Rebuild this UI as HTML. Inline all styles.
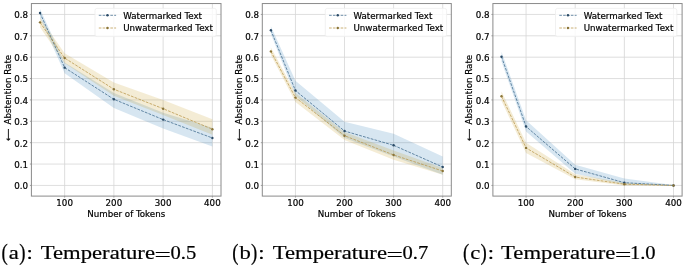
<!DOCTYPE html>
<html><head><meta charset="utf-8"><style>
html,body{margin:0;padding:0;background:#fff;width:685px;height:267px;overflow:hidden}
svg{display:block;filter:blur(0.4px)}
text{font-family:"DejaVu Sans",sans-serif;font-size:8.7px;fill:#000000;stroke:#000000;stroke-width:0.2px}
text.cap{font-family:"Liberation Serif",serif;font-size:19.8px;fill:#000;stroke:#000;stroke-width:0.2px}
</style></head><body>
<svg width="685" height="267" viewBox="0 0 685 267">
<rect width="685" height="267" fill="#fff"/>
<line x1="31.40" x2="221.00" y1="185.43" y2="185.43" stroke="#d6d6d6" stroke-width="0.8"/>
<line x1="31.40" x2="221.00" y1="164.06" y2="164.06" stroke="#d6d6d6" stroke-width="0.8"/>
<line x1="31.40" x2="221.00" y1="142.68" y2="142.68" stroke="#d6d6d6" stroke-width="0.8"/>
<line x1="31.40" x2="221.00" y1="121.31" y2="121.31" stroke="#d6d6d6" stroke-width="0.8"/>
<line x1="31.40" x2="221.00" y1="99.93" y2="99.93" stroke="#d6d6d6" stroke-width="0.8"/>
<line x1="31.40" x2="221.00" y1="78.56" y2="78.56" stroke="#d6d6d6" stroke-width="0.8"/>
<line x1="31.40" x2="221.00" y1="57.18" y2="57.18" stroke="#d6d6d6" stroke-width="0.8"/>
<line x1="31.40" x2="221.00" y1="35.81" y2="35.81" stroke="#d6d6d6" stroke-width="0.8"/>
<line x1="31.40" x2="221.00" y1="14.43" y2="14.43" stroke="#d6d6d6" stroke-width="0.8"/>
<line x1="64.64" x2="64.64" y1="3.55" y2="196.10" stroke="#d6d6d6" stroke-width="0.8"/>
<line x1="113.89" x2="113.89" y1="3.55" y2="196.10" stroke="#d6d6d6" stroke-width="0.8"/>
<line x1="163.14" x2="163.14" y1="3.55" y2="196.10" stroke="#d6d6d6" stroke-width="0.8"/>
<line x1="212.38" x2="212.38" y1="3.55" y2="196.10" stroke="#d6d6d6" stroke-width="0.8"/>
<polygon points="40.02,9.09 64.64,62.52 113.89,93.09 163.14,112.75 212.38,127.72 212.38,146.53 163.14,128.57 113.89,108.05 64.64,73.21 40.02,17.64" fill="#1f77b4" fill-opacity="0.18"/>
<polygon points="40.02,17.64 64.64,53.33 113.89,82.40 163.14,99.93 212.38,119.17 212.38,134.77 163.14,114.89 113.89,95.66 64.64,63.17 40.02,27.25" fill="#c39416" fill-opacity="0.18"/>
<polyline points="40.02,12.93 64.64,67.65 113.89,99.29 163.14,119.60 212.38,137.98" fill="none" stroke="#3a6688" stroke-width="0.75" stroke-dasharray="2.8,1.2"/><circle cx="40.02" cy="12.93" r="1.2" fill="#2a4a66"/><circle cx="64.64" cy="67.65" r="1.2" fill="#2a4a66"/><circle cx="113.89" cy="99.29" r="1.2" fill="#2a4a66"/><circle cx="163.14" cy="119.60" r="1.2" fill="#2a4a66"/><circle cx="212.38" cy="137.98" r="1.2" fill="#2a4a66"/>
<polyline points="40.02,22.34 64.64,58.04 113.89,89.24 163.14,108.69 212.38,129.21" fill="none" stroke="#b8964a" stroke-width="0.75" stroke-dasharray="2.8,1.2"/><circle cx="40.02" cy="22.34" r="1.2" fill="#8a7438"/><circle cx="64.64" cy="58.04" r="1.2" fill="#8a7438"/><circle cx="113.89" cy="89.24" r="1.2" fill="#8a7438"/><circle cx="163.14" cy="108.69" r="1.2" fill="#8a7438"/><circle cx="212.38" cy="129.21" r="1.2" fill="#8a7438"/>
<rect x="31.40" y="3.55" width="189.60" height="192.55" fill="none" stroke="#8a8a8a" stroke-width="1"/>
<line x1="29.90" x2="31.40" y1="185.43" y2="185.43" stroke="#8a8a8a" stroke-width="0.8"/>
<text x="28.10" y="189.33" text-anchor="end">0.0</text>
<line x1="29.90" x2="31.40" y1="164.06" y2="164.06" stroke="#8a8a8a" stroke-width="0.8"/>
<text x="28.10" y="167.96" text-anchor="end">0.1</text>
<line x1="29.90" x2="31.40" y1="142.68" y2="142.68" stroke="#8a8a8a" stroke-width="0.8"/>
<text x="28.10" y="146.58" text-anchor="end">0.2</text>
<line x1="29.90" x2="31.40" y1="121.31" y2="121.31" stroke="#8a8a8a" stroke-width="0.8"/>
<text x="28.10" y="125.21" text-anchor="end">0.3</text>
<line x1="29.90" x2="31.40" y1="99.93" y2="99.93" stroke="#8a8a8a" stroke-width="0.8"/>
<text x="28.10" y="103.83" text-anchor="end">0.4</text>
<line x1="29.90" x2="31.40" y1="78.56" y2="78.56" stroke="#8a8a8a" stroke-width="0.8"/>
<text x="28.10" y="82.46" text-anchor="end">0.5</text>
<line x1="29.90" x2="31.40" y1="57.18" y2="57.18" stroke="#8a8a8a" stroke-width="0.8"/>
<text x="28.10" y="61.08" text-anchor="end">0.6</text>
<line x1="29.90" x2="31.40" y1="35.81" y2="35.81" stroke="#8a8a8a" stroke-width="0.8"/>
<text x="28.10" y="39.71" text-anchor="end">0.7</text>
<line x1="29.90" x2="31.40" y1="14.43" y2="14.43" stroke="#8a8a8a" stroke-width="0.8"/>
<text x="28.10" y="18.33" text-anchor="end">0.8</text>
<line x1="64.64" x2="64.64" y1="196.10" y2="197.60" stroke="#8a8a8a" stroke-width="0.8"/>
<text x="64.64" y="205.90" text-anchor="middle">100</text>
<line x1="113.89" x2="113.89" y1="196.10" y2="197.60" stroke="#8a8a8a" stroke-width="0.8"/>
<text x="113.89" y="205.90" text-anchor="middle">200</text>
<line x1="163.14" x2="163.14" y1="196.10" y2="197.60" stroke="#8a8a8a" stroke-width="0.8"/>
<text x="163.14" y="205.90" text-anchor="middle">300</text>
<line x1="212.38" x2="212.38" y1="196.10" y2="197.60" stroke="#8a8a8a" stroke-width="0.8"/>
<text x="212.38" y="205.90" text-anchor="middle">400</text>
<text x="126.20" y="217.2" text-anchor="middle">Number of Tokens</text>
<text transform="translate(10.90,124.4) rotate(-90)" x="0" y="0">Abstention Rate</text>
<text transform="translate(10.90,140.9) rotate(-90)" x="0" y="0">⟵</text>
<rect x="95.00" y="8.40" width="121.30" height="28.20" rx="2" fill="#ffffff" fill-opacity="0.8" stroke="#eeeeee" stroke-width="0.8"/>
<line x1="98.80" x2="116.10" y1="15.30" y2="15.30" stroke="#3a6688" stroke-width="0.75" stroke-dasharray="2.6,1.25"/>
<circle cx="107.45" cy="15.30" r="1.2" fill="#2a4a66"/>
<text x="123.20" y="18.60">Watermarked Text</text>
<line x1="98.80" x2="116.10" y1="28.00" y2="28.00" stroke="#b8964a" stroke-width="0.75" stroke-dasharray="2.6,1.25"/>
<circle cx="107.45" cy="28.00" r="1.2" fill="#8a7438"/>
<text x="123.20" y="31.30">Unwatermarked Text</text>
<line x1="262.30" x2="451.30" y1="185.43" y2="185.43" stroke="#d6d6d6" stroke-width="0.8"/>
<line x1="262.30" x2="451.30" y1="164.06" y2="164.06" stroke="#d6d6d6" stroke-width="0.8"/>
<line x1="262.30" x2="451.30" y1="142.68" y2="142.68" stroke="#d6d6d6" stroke-width="0.8"/>
<line x1="262.30" x2="451.30" y1="121.31" y2="121.31" stroke="#d6d6d6" stroke-width="0.8"/>
<line x1="262.30" x2="451.30" y1="99.93" y2="99.93" stroke="#d6d6d6" stroke-width="0.8"/>
<line x1="262.30" x2="451.30" y1="78.56" y2="78.56" stroke="#d6d6d6" stroke-width="0.8"/>
<line x1="262.30" x2="451.30" y1="57.18" y2="57.18" stroke="#d6d6d6" stroke-width="0.8"/>
<line x1="262.30" x2="451.30" y1="35.81" y2="35.81" stroke="#d6d6d6" stroke-width="0.8"/>
<line x1="262.30" x2="451.30" y1="14.43" y2="14.43" stroke="#d6d6d6" stroke-width="0.8"/>
<line x1="295.44" x2="295.44" y1="3.55" y2="196.10" stroke="#d6d6d6" stroke-width="0.8"/>
<line x1="344.53" x2="344.53" y1="3.55" y2="196.10" stroke="#d6d6d6" stroke-width="0.8"/>
<line x1="393.62" x2="393.62" y1="3.55" y2="196.10" stroke="#d6d6d6" stroke-width="0.8"/>
<line x1="442.71" x2="442.71" y1="3.55" y2="196.10" stroke="#d6d6d6" stroke-width="0.8"/>
<polygon points="270.89,26.19 295.44,80.69 344.53,121.73 393.62,133.70 442.71,156.57 442.71,174.74 393.62,156.57 344.53,137.98 295.44,95.66 270.89,34.10" fill="#1f77b4" fill-opacity="0.18"/>
<polygon points="270.89,47.56 295.44,93.09 344.53,131.99 393.62,150.59 442.71,167.90 442.71,174.74 393.62,159.78 344.53,139.90 295.44,102.07 270.89,55.04" fill="#c39416" fill-opacity="0.18"/>
<polyline points="270.89,30.25 295.44,90.53 344.53,131.03 393.62,145.31 442.71,167.05" fill="none" stroke="#3a6688" stroke-width="0.75" stroke-dasharray="2.8,1.2"/><circle cx="270.89" cy="30.25" r="1.2" fill="#2a4a66"/><circle cx="295.44" cy="90.53" r="1.2" fill="#2a4a66"/><circle cx="344.53" cy="131.03" r="1.2" fill="#2a4a66"/><circle cx="393.62" cy="145.31" r="1.2" fill="#2a4a66"/><circle cx="442.71" cy="167.05" r="1.2" fill="#2a4a66"/>
<polyline points="270.89,51.41 295.44,97.58 344.53,135.69 393.62,154.99 442.71,171.00" fill="none" stroke="#b8964a" stroke-width="0.75" stroke-dasharray="2.8,1.2"/><circle cx="270.89" cy="51.41" r="1.2" fill="#8a7438"/><circle cx="295.44" cy="97.58" r="1.2" fill="#8a7438"/><circle cx="344.53" cy="135.69" r="1.2" fill="#8a7438"/><circle cx="393.62" cy="154.99" r="1.2" fill="#8a7438"/><circle cx="442.71" cy="171.00" r="1.2" fill="#8a7438"/>
<rect x="262.30" y="3.55" width="189.00" height="192.55" fill="none" stroke="#8a8a8a" stroke-width="1"/>
<line x1="260.80" x2="262.30" y1="185.43" y2="185.43" stroke="#8a8a8a" stroke-width="0.8"/>
<text x="259.00" y="189.33" text-anchor="end">0.0</text>
<line x1="260.80" x2="262.30" y1="164.06" y2="164.06" stroke="#8a8a8a" stroke-width="0.8"/>
<text x="259.00" y="167.96" text-anchor="end">0.1</text>
<line x1="260.80" x2="262.30" y1="142.68" y2="142.68" stroke="#8a8a8a" stroke-width="0.8"/>
<text x="259.00" y="146.58" text-anchor="end">0.2</text>
<line x1="260.80" x2="262.30" y1="121.31" y2="121.31" stroke="#8a8a8a" stroke-width="0.8"/>
<text x="259.00" y="125.21" text-anchor="end">0.3</text>
<line x1="260.80" x2="262.30" y1="99.93" y2="99.93" stroke="#8a8a8a" stroke-width="0.8"/>
<text x="259.00" y="103.83" text-anchor="end">0.4</text>
<line x1="260.80" x2="262.30" y1="78.56" y2="78.56" stroke="#8a8a8a" stroke-width="0.8"/>
<text x="259.00" y="82.46" text-anchor="end">0.5</text>
<line x1="260.80" x2="262.30" y1="57.18" y2="57.18" stroke="#8a8a8a" stroke-width="0.8"/>
<text x="259.00" y="61.08" text-anchor="end">0.6</text>
<line x1="260.80" x2="262.30" y1="35.81" y2="35.81" stroke="#8a8a8a" stroke-width="0.8"/>
<text x="259.00" y="39.71" text-anchor="end">0.7</text>
<line x1="260.80" x2="262.30" y1="14.43" y2="14.43" stroke="#8a8a8a" stroke-width="0.8"/>
<text x="259.00" y="18.33" text-anchor="end">0.8</text>
<line x1="295.44" x2="295.44" y1="196.10" y2="197.60" stroke="#8a8a8a" stroke-width="0.8"/>
<text x="295.44" y="205.90" text-anchor="middle">100</text>
<line x1="344.53" x2="344.53" y1="196.10" y2="197.60" stroke="#8a8a8a" stroke-width="0.8"/>
<text x="344.53" y="205.90" text-anchor="middle">200</text>
<line x1="393.62" x2="393.62" y1="196.10" y2="197.60" stroke="#8a8a8a" stroke-width="0.8"/>
<text x="393.62" y="205.90" text-anchor="middle">300</text>
<line x1="442.71" x2="442.71" y1="196.10" y2="197.60" stroke="#8a8a8a" stroke-width="0.8"/>
<text x="442.71" y="205.90" text-anchor="middle">400</text>
<text x="356.80" y="217.2" text-anchor="middle">Number of Tokens</text>
<text transform="translate(241.80,124.4) rotate(-90)" x="0" y="0">Abstention Rate</text>
<text transform="translate(241.80,140.9) rotate(-90)" x="0" y="0">⟵</text>
<rect x="325.30" y="8.40" width="121.30" height="28.20" rx="2" fill="#ffffff" fill-opacity="0.8" stroke="#eeeeee" stroke-width="0.8"/>
<line x1="329.10" x2="346.40" y1="15.30" y2="15.30" stroke="#3a6688" stroke-width="0.75" stroke-dasharray="2.6,1.25"/>
<circle cx="337.75" cy="15.30" r="1.2" fill="#2a4a66"/>
<text x="353.50" y="18.60">Watermarked Text</text>
<line x1="329.10" x2="346.40" y1="28.00" y2="28.00" stroke="#b8964a" stroke-width="0.75" stroke-dasharray="2.6,1.25"/>
<circle cx="337.75" cy="28.00" r="1.2" fill="#8a7438"/>
<text x="353.50" y="31.30">Unwatermarked Text</text>
<line x1="492.90" x2="682.10" y1="185.43" y2="185.43" stroke="#d6d6d6" stroke-width="0.8"/>
<line x1="492.90" x2="682.10" y1="164.06" y2="164.06" stroke="#d6d6d6" stroke-width="0.8"/>
<line x1="492.90" x2="682.10" y1="142.68" y2="142.68" stroke="#d6d6d6" stroke-width="0.8"/>
<line x1="492.90" x2="682.10" y1="121.31" y2="121.31" stroke="#d6d6d6" stroke-width="0.8"/>
<line x1="492.90" x2="682.10" y1="99.93" y2="99.93" stroke="#d6d6d6" stroke-width="0.8"/>
<line x1="492.90" x2="682.10" y1="78.56" y2="78.56" stroke="#d6d6d6" stroke-width="0.8"/>
<line x1="492.90" x2="682.10" y1="57.18" y2="57.18" stroke="#d6d6d6" stroke-width="0.8"/>
<line x1="492.90" x2="682.10" y1="35.81" y2="35.81" stroke="#d6d6d6" stroke-width="0.8"/>
<line x1="492.90" x2="682.10" y1="14.43" y2="14.43" stroke="#d6d6d6" stroke-width="0.8"/>
<line x1="526.07" x2="526.07" y1="3.55" y2="196.10" stroke="#d6d6d6" stroke-width="0.8"/>
<line x1="575.21" x2="575.21" y1="3.55" y2="196.10" stroke="#d6d6d6" stroke-width="0.8"/>
<line x1="624.36" x2="624.36" y1="3.55" y2="196.10" stroke="#d6d6d6" stroke-width="0.8"/>
<line x1="673.50" x2="673.50" y1="3.55" y2="196.10" stroke="#d6d6d6" stroke-width="0.8"/>
<polygon points="501.50,51.84 526.07,120.24 575.21,164.70 624.36,178.38 673.50,185.00 673.50,185.43 624.36,184.58 575.21,173.67 526.07,131.56 501.50,61.46" fill="#1f77b4" fill-opacity="0.18"/>
<polygon points="501.50,91.38 526.07,142.68 575.21,174.31 624.36,182.87 673.50,185.22 673.50,185.43 624.36,185.43 575.21,179.23 526.07,152.94 501.50,101.00" fill="#c39416" fill-opacity="0.18"/>
<polyline points="501.50,56.75 526.07,126.50 575.21,168.91 624.36,182.69 673.50,185.43" fill="none" stroke="#3a6688" stroke-width="0.75" stroke-dasharray="2.8,1.2"/><circle cx="501.50" cy="56.75" r="1.2" fill="#2a4a66"/><circle cx="526.07" cy="126.50" r="1.2" fill="#2a4a66"/><circle cx="575.21" cy="168.91" r="1.2" fill="#2a4a66"/><circle cx="624.36" cy="182.69" r="1.2" fill="#2a4a66"/><circle cx="673.50" cy="185.43" r="1.2" fill="#2a4a66"/>
<polyline points="501.50,96.30 526.07,147.90 575.21,177.01 624.36,184.21 673.50,185.43" fill="none" stroke="#b8964a" stroke-width="0.75" stroke-dasharray="2.8,1.2"/><circle cx="501.50" cy="96.30" r="1.2" fill="#8a7438"/><circle cx="526.07" cy="147.90" r="1.2" fill="#8a7438"/><circle cx="575.21" cy="177.01" r="1.2" fill="#8a7438"/><circle cx="624.36" cy="184.21" r="1.2" fill="#8a7438"/><circle cx="673.50" cy="185.43" r="1.2" fill="#8a7438"/>
<rect x="492.90" y="3.55" width="189.20" height="192.55" fill="none" stroke="#8a8a8a" stroke-width="1"/>
<line x1="491.40" x2="492.90" y1="185.43" y2="185.43" stroke="#8a8a8a" stroke-width="0.8"/>
<text x="489.60" y="189.33" text-anchor="end">0.0</text>
<line x1="491.40" x2="492.90" y1="164.06" y2="164.06" stroke="#8a8a8a" stroke-width="0.8"/>
<text x="489.60" y="167.96" text-anchor="end">0.1</text>
<line x1="491.40" x2="492.90" y1="142.68" y2="142.68" stroke="#8a8a8a" stroke-width="0.8"/>
<text x="489.60" y="146.58" text-anchor="end">0.2</text>
<line x1="491.40" x2="492.90" y1="121.31" y2="121.31" stroke="#8a8a8a" stroke-width="0.8"/>
<text x="489.60" y="125.21" text-anchor="end">0.3</text>
<line x1="491.40" x2="492.90" y1="99.93" y2="99.93" stroke="#8a8a8a" stroke-width="0.8"/>
<text x="489.60" y="103.83" text-anchor="end">0.4</text>
<line x1="491.40" x2="492.90" y1="78.56" y2="78.56" stroke="#8a8a8a" stroke-width="0.8"/>
<text x="489.60" y="82.46" text-anchor="end">0.5</text>
<line x1="491.40" x2="492.90" y1="57.18" y2="57.18" stroke="#8a8a8a" stroke-width="0.8"/>
<text x="489.60" y="61.08" text-anchor="end">0.6</text>
<line x1="491.40" x2="492.90" y1="35.81" y2="35.81" stroke="#8a8a8a" stroke-width="0.8"/>
<text x="489.60" y="39.71" text-anchor="end">0.7</text>
<line x1="491.40" x2="492.90" y1="14.43" y2="14.43" stroke="#8a8a8a" stroke-width="0.8"/>
<text x="489.60" y="18.33" text-anchor="end">0.8</text>
<line x1="526.07" x2="526.07" y1="196.10" y2="197.60" stroke="#8a8a8a" stroke-width="0.8"/>
<text x="526.07" y="205.90" text-anchor="middle">100</text>
<line x1="575.21" x2="575.21" y1="196.10" y2="197.60" stroke="#8a8a8a" stroke-width="0.8"/>
<text x="575.21" y="205.90" text-anchor="middle">200</text>
<line x1="624.36" x2="624.36" y1="196.10" y2="197.60" stroke="#8a8a8a" stroke-width="0.8"/>
<text x="624.36" y="205.90" text-anchor="middle">300</text>
<line x1="673.50" x2="673.50" y1="196.10" y2="197.60" stroke="#8a8a8a" stroke-width="0.8"/>
<text x="673.50" y="205.90" text-anchor="middle">400</text>
<text x="587.50" y="217.2" text-anchor="middle">Number of Tokens</text>
<text transform="translate(472.40,124.4) rotate(-90)" x="0" y="0">Abstention Rate</text>
<text transform="translate(472.40,140.9) rotate(-90)" x="0" y="0">⟵</text>
<rect x="555.50" y="8.40" width="121.30" height="28.20" rx="2" fill="#ffffff" fill-opacity="0.8" stroke="#eeeeee" stroke-width="0.8"/>
<line x1="559.30" x2="576.60" y1="15.30" y2="15.30" stroke="#3a6688" stroke-width="0.75" stroke-dasharray="2.6,1.25"/>
<circle cx="567.95" cy="15.30" r="1.2" fill="#2a4a66"/>
<text x="583.70" y="18.60">Watermarked Text</text>
<line x1="559.30" x2="576.60" y1="28.00" y2="28.00" stroke="#b8964a" stroke-width="0.75" stroke-dasharray="2.6,1.25"/>
<circle cx="567.95" cy="28.00" r="1.2" fill="#8a7438"/>
<text x="583.70" y="31.30">Unwatermarked Text</text>
<text class="cap" transform="translate(1.54,259.50) scale(0.95,1.16)">(</text>
<text class="cap" transform="translate(8.80,259.1) scale(1.1460,1)">a</text>
<text class="cap" transform="translate(19.17,259.50) scale(0.95,1.16)">)</text>
<text class="cap" transform="translate(26.42,259.1) scale(1.1460,1)">:</text>
<text class="cap" transform="translate(40.70,259.1) scale(1.1460,1)">Temperature</text>
<text class="cap" transform="translate(154.55,261.05) scale(1.467,1)">=</text>
<text class="cap" transform="translate(170.53,259.1) scale(1.04,1)">0.5</text>
<text class="cap" transform="translate(232.20,259.50) scale(0.95,1.16)">(</text>
<text class="cap" transform="translate(239.46,259.1) scale(1.1460,1)">b</text>
<text class="cap" transform="translate(251.10,259.50) scale(0.95,1.16)">)</text>
<text class="cap" transform="translate(258.36,259.1) scale(1.1460,1)">:</text>
<text class="cap" transform="translate(272.70,259.1) scale(1.1460,1)">Temperature</text>
<text class="cap" transform="translate(386.55,261.05) scale(1.467,1)">=</text>
<text class="cap" transform="translate(402.53,259.1) scale(1.04,1)">0.7</text>
<text class="cap" transform="translate(462.90,259.50) scale(0.95,1.16)">(</text>
<text class="cap" transform="translate(470.16,259.1) scale(1.1460,1)">c</text>
<text class="cap" transform="translate(480.53,259.50) scale(0.95,1.16)">)</text>
<text class="cap" transform="translate(487.78,259.1) scale(1.1460,1)">:</text>
<text class="cap" transform="translate(501.10,259.1) scale(1.1460,1)">Temperature</text>
<text class="cap" transform="translate(614.95,261.05) scale(1.467,1)">=</text>
<text class="cap" transform="translate(629.90,259.1) scale(1.04,1)">1.0</text>
</svg>
</body></html>
